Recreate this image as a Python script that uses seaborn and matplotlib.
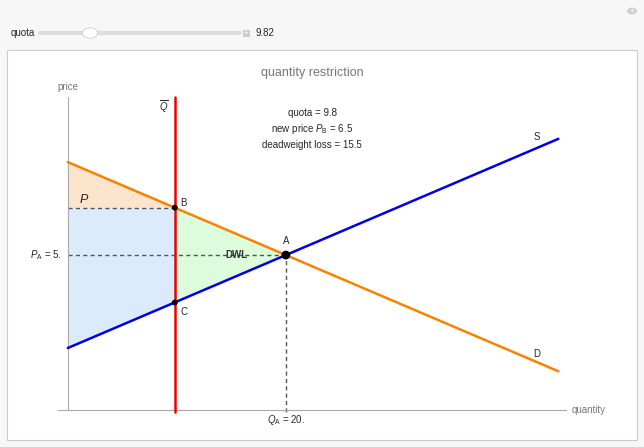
import matplotlib
matplotlib.use("Agg")
import matplotlib.pyplot as plt
import seaborn as sns
from matplotlib.patches import Rectangle, Circle, Polygon
from matplotlib.lines import Line2D

# values
q_ends = [0, 45]
demand_p = [8.0, 1.25]
supply_p = [2.0, 8.75]
quota = 9.82
p_new = 6.53
p_at_quota_supply = 3.47
q_eq = 20
p_eq = 5
info_lines = ["quota = 9.8", "new price $P_\\mathrm{B}$ = 6.5", "deadweight loss = 15.5"]

orange = "#ff8000"
blue = "#0000ee"
red = "#ee0000"
gray_txt = "#777777"

sns.set_style("white")
plt.rcParams['font.family'] = ['Liberation Sans', 'DejaVu Sans']
plt.rcParams['mathtext.fontset'] = 'custom'
plt.rcParams['mathtext.it'] = 'Liberation Sans:italic'
plt.rcParams['mathtext.rm'] = 'Liberation Sans'

W, H = 644, 447
fig = plt.figure(figsize=(W / 100, H / 100), dpi=100)
fig.patch.set_facecolor("#f7f7f7")

def fx(x):
    return x / W

def fy(y):
    return 1 - y / H

# white panel
fig.add_artist(Rectangle((fx(7), fy(440)), fx(630), 390 / H, transform=fig.transFigure,
                         facecolor="white", edgecolor="#cccccc", lw=0.8, zorder=0))

# slider row
fig.text(fx(11), fy(33), "quota", fontsize=7, va="center", ha="left")
fig.add_artist(Line2D([fx(40), fx(240)], [fy(33), fy(33)], transform=fig.transFigure,
                      color="#dedede", lw=3, solid_capstyle="round"))
fig.add_artist(Circle((fx(90), fy(33)), 7.5 / W, transform=fig.transFigure,
                      facecolor="white", edgecolor="#cfcfcf", lw=0.6, zorder=3))
fig.add_artist(Rectangle((fx(243), fy(37)), 7 / W, 7 / H, transform=fig.transFigure,
                         facecolor="#cccccc", edgecolor="none"))
fig.text(fx(246.5), fy(33.5), "+", fontsize=6, color="white", ha="center", va="center")
fig.text(fx(255), fy(33), "9.82", fontsize=7, va="center", ha="left")
fig.add_artist(Circle((fx(632), fy(11)), 5 / W, transform=fig.transFigure,
                      facecolor="#cfcfcf", edgecolor="none"))
fig.text(fx(632), fy(11.3), "+", fontsize=6, color="white", ha="center", va="center")

# plot axes
ax = fig.add_axes([fx(58), fy(410), 508 / W, 313 / H])
ax.set_facecolor("none")
ax.set_xlim(-0.9, 45.7)
ax.set_ylim(0, 10.1)
for s in ["top", "right"]:
    ax.spines[s].set_visible(False)
ax.spines["left"].set_position(("data", 0))
ax.spines["bottom"].set_position(("data", 0))
for s in ["left", "bottom"]:
    ax.spines[s].set_color("#aaaaaa")
    ax.spines[s].set_linewidth(0.8)
ax.set_xticks([])
ax.set_yticks([])

# shaded areas
ax.add_patch(Polygon([(0, demand_p[0]), (quota, p_new), (0, p_new)],
                     facecolor="#fde4cc", edgecolor="none", zorder=1))
ax.add_patch(Polygon([(0, p_new), (quota, p_new), (quota, p_at_quota_supply), (0, supply_p[0])],
                     facecolor="#dcebfc", edgecolor="none", zorder=1))
ax.add_patch(Polygon([(quota, p_new), (q_eq, p_eq), (quota, p_at_quota_supply)],
                     facecolor="#dcfcdc", edgecolor="none", zorder=1))

# dashed guides
dash = dict(ls=(0, (3, 2.3)), color="#555555", lw=1.0, zorder=2)
ax.plot([0, quota], [p_new, p_new], **dash)
ax.plot([0, q_eq], [p_eq, p_eq], **dash)
ax.plot([q_eq, q_eq], [-0.07, p_eq], clip_on=False, **dash)

# curves
sns.lineplot(x=q_ends, y=demand_p, color=orange, lw=1.8, ax=ax, zorder=3)
sns.lineplot(x=q_ends, y=supply_p, color=blue, lw=1.8, ax=ax, zorder=3)
ax.plot([quota, quota], [-0.05, 10.1], color=red, lw=1.8, zorder=3, clip_on=False)

# points
sns.scatterplot(x=[quota, quota], y=[p_new, p_at_quota_supply], color="black", s=18,
                edgecolor="none", ax=ax, zorder=4)
sns.scatterplot(x=[q_eq], y=[p_eq], color="black", s=40, edgecolor="none", ax=ax, zorder=4)

# labels
fs = 7
ax.text(quota + 0.5, p_new + 0.15, "B", fontsize=fs, ha="left", va="center")
ax.text(quota + 0.5, p_at_quota_supply - 0.3, "C", fontsize=fs, ha="left", va="center")
ax.text(q_eq, p_eq + 0.45, "A", fontsize=fs, ha="center", va="center")
ax.text(q_ends[1] - 2, supply_p[1] + 0.05, "S", fontsize=fs, ha="center", va="center")
ax.text(q_ends[1] - 2, demand_p[1] + 0.55, "D", fontsize=fs, ha="center", va="center")
ax.text(15.5, p_eq, "DWL", fontsize=fs, ha="center", va="center", fontweight="bold", color="#333333")
ax.text(1.0, p_new + 0.25, "$P$", fontsize=9, ha="left", va="center")
ax.text(-0.55, p_eq, "$P_\\mathrm{A}$ = 5.", fontsize=fs, ha="right", va="center")
ax.text(q_eq, -0.33, "$Q_\\mathrm{A}$ = 20.", fontsize=fs, ha="center", va="center", clip_on=False)
ax.text(quota - 1.0, 9.8, "$\\overline{Q}$", fontsize=fs, ha="center", va="center")
ax.text(0, 10.25, "price", fontsize=fs, color=gray_txt, ha="center", va="bottom", clip_on=False)
ax.text(46.2, 0, "quantity", fontsize=fs, color=gray_txt, ha="left", va="center", clip_on=False)

fig.text(fx(312), fy(73), "quantity restriction", fontsize=9, color=gray_txt, ha="center", va="center")
for i, line in enumerate(info_lines):
    fig.text(fx(312), fy(113 + 16 * i), line, fontsize=7, ha="center", va="center")

fig.savefig("out.png", dpi=100)
